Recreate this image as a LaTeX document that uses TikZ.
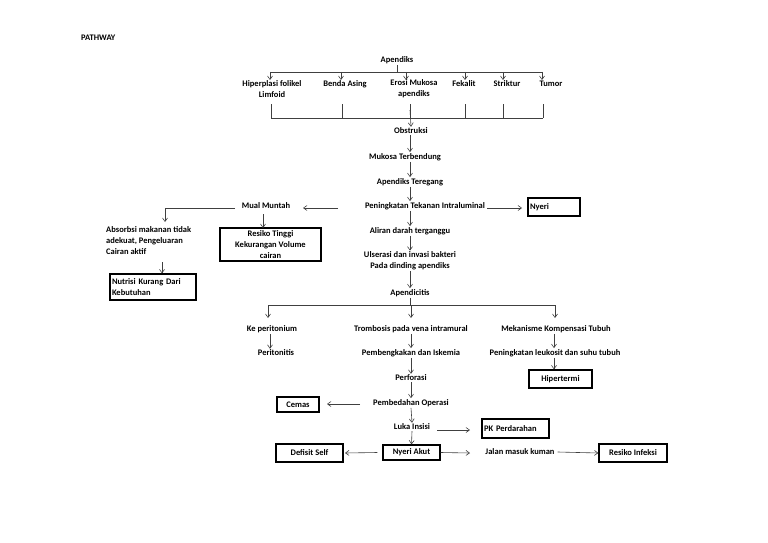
\documentclass[tikz,border=0pt]{standalone}
\usepackage{fontspec}
\setmainfont{Carlito}
\usetikzlibrary{arrows.meta}
\begin{document}
\begin{tikzpicture}[x=1pt,y=-1pt,
  t/.style={font=\bfseries\fontsize{8.5}{11}\selectfont,inner sep=1pt,align=center},
  b/.style={t,draw,line width=1.2pt,inner sep=0pt},
  ln/.style={draw=black!75,line width=0.6pt},
  ar/.style={ln,-{Straight Barb[length=3.5pt,width=5pt]}}]
\useasboundingbox (0,0) rectangle (768,543);
\node[t,anchor=west] (pw) at (80,38) {PATHWAY};
\node[t] (ap) at (397,60) {Apendiks};
\node[t] (c1) at (272,89) {Hiperplasi folikel\\Limfoid};
\node[t] (c2) at (345,84) {Benda Asing};
\node[t] (c3) at (414,89) {Erosi Mukosa\\apendiks};
\node[t] (c4) at (464,84) {Fekalit};
\node[t] (c5) at (507,84) {Striktur};
\node[t] (c6) at (551,84) {Tumor};
\coordinate (h1) at (270,72); \coordinate (h2) at (542,72);
\draw[ln] (ap) -- (ap|-h1);
\draw[ln] (h1) -- (h2);
\foreach \x in {270,341,406,465,503,542} \draw[ar] (\x,72) -- (\x,80);
\draw[ln] (271,118) -- (543,118);
\foreach \x in {271,342,410,465,503,543} \draw[ln] (\x,104) -- (\x,118);
\node[t] (ob) at (411,131) {Obstruksi};
\draw[ar] (410,110) -- (ob.north);
\node[t] (mt) at (405,157) {Mukosa Terbendung};
\node[t] (at) at (410,182) {Apendiks Teregang};
\node[t] (pt) at (425,206) {Peningkatan Tekanan Intraluminal};
\draw[ar] (ob.south-|410,0) -- (mt.north-|410,0);
\draw[ar] (mt.south-|410,0) -- (at.north-|410,0);
\draw[ar] (at.south-|410,0) -- (pt.north-|410,0);
\node[t] (mm) at (266,206) {Mual Muntah};
\draw[ar] (338,208) -- (303,208);
\node[b,minimum width=52pt,minimum height=18pt,text width=48pt,align=left] (ny) at (554,207) {Nyeri};
\draw[ar] (487,208) -- (522,208);
\coordinate (ml) at (165,208);
\draw[ln] (235,208) -- (ml);
\node[t,align=left,anchor=north west] (ab) at (105,225) {Absorbsi makanan tidak\\adekuat, Pengeluaran\\Cairan aktif};
\draw[ar] (ml) -- (165,222);
\node[b,minimum width=101pt,minimum height=33pt] (rt) at (270.5,244.5) {Resiko Tinggi\\Kekurangan Volume\\cairan};
\draw[ar] (263,214) -- (263,228);
\node[b,minimum width=86pt,minimum height=26pt,text width=82pt,align=left] (nk) at (153,287) {Nutrisi Kurang Dari\\ Kebutuhan};
\draw[ar] (162,262) -- (nk.north-|162,0);
\node[t] (al) at (410,231) {Aliran darah terganggu};
\node[t] (ul) at (410,261) {Ulserasi dan invasi bakteri\\Pada dinding apendiks};
\node[t] (ac) at (410,293) {Apendicitis};
\draw[ar] (pt.south-|410,0) -- (al.north);
\draw[ar] (al.south) -- (ul.north);
\draw[ar] (ul.south) -- (ac.north);
\draw[ln] (268,305) -- (555,305);
\draw[ln] (ac.south) -- (410,305);
\foreach \x in {268,411,555} \draw[ar] (\x,305) -- (\x,318);
\node[t] (kp) at (272,329) {Ke peritonium};
\node[t] (pe) at (276,353) {Peritonitis};
\draw[ar] (kp.south-|270,0) -- (pe.north-|270,0);
\node[t] (tr) at (411,329) {Trombosis pada vena intramural};
\node[t] (pi) at (411,353) {Pembengkakan dan Iskemia};
\node[t] (pf) at (411,378) {Perforasi};
\node[t] (po) at (411,403) {Pembedahan Operasi};
\node[t] (li) at (412,427) {Luka Insisi};
\node[b,minimum width=57pt,minimum height=15pt] (na) at (411.5,452.5) {Nyeri Akut};
\draw[ar] (tr.south) -- (pi.north);
\draw[ar] (pi.south) -- (pf.north);
\draw[ar] (pf.south) -- (po.north);
\draw[ar] (po.south) -- (li.north);
\draw[ar] (li.south) -- (na.north);
\node[t] (mk) at (556,329) {Mekanisme Kompensasi Tubuh};
\node[t] (pl) at (555,353) {Peningkatan leukosit dan suhu tubuh};
\node[b,minimum width=63pt,minimum height=18pt] (hp) at (560.5,379) {Hipertermi};
\draw[ar] (mk.south-|554,0) -- (pl.north-|554,0);
\draw[ar] (pl.south-|554,0) -- (hp.north-|554,0);
\node[b,minimum width=42pt,minimum height=15pt] (ce) at (298,404.5) {Cemas};
\draw[ar] (360,404) -- (327,404);
\node[b,minimum width=67pt,minimum height=19pt,text width=63pt,align=left] (pk) at (515.5,428.5) {PK Perdarahan};
\draw[ar] (437,430) -- (470,430);
\node[b,minimum width=67pt,minimum height=18pt] (ds) at (309.5,453) {Defisit Self};
\draw[ar] (na.west) ++(-5,0) -- (345,453);
\node[t] (jm) at (520,452) {Jalan masuk kuman};
\draw[ar] (na.east) -- (470,453);
\node[b,minimum width=68pt,minimum height=18pt] (ri) at (633,453) {Resiko Infeksi};
\draw[ar] (jm.east) ++(2,0) -- (ri.west);
\end{tikzpicture}
\end{document}
